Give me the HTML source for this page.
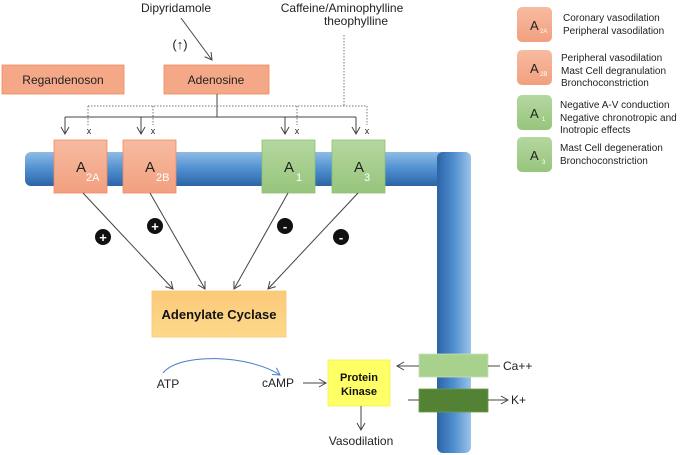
<!DOCTYPE html>
<html><head><meta charset="utf-8"><style>
body{margin:0;background:#fff}
svg{display:block;font-family:"Liberation Sans",Arial,sans-serif}
</style></head><body>
<svg width="685" height="455" viewBox="0 0 685 455" xmlns="http://www.w3.org/2000/svg">
<defs>
<linearGradient id="hb" x1="0" y1="0" x2="0" y2="1"><stop offset="0" stop-color="#8fbbe6"/><stop offset="0.5" stop-color="#4f8fd0"/><stop offset="1" stop-color="#2c64a6"/></linearGradient>
<linearGradient id="vb" x1="0" y1="0" x2="1" y2="0"><stop offset="0" stop-color="#2c64a6"/><stop offset="0.5" stop-color="#4f8fd0"/><stop offset="1" stop-color="#9cc3ea"/></linearGradient>
<linearGradient id="or" x1="0" y1="0" x2="0" y2="1"><stop offset="0" stop-color="#f7bba1"/><stop offset="1" stop-color="#f2a07f"/></linearGradient>
<linearGradient id="gr" x1="0" y1="0" x2="0" y2="1"><stop offset="0" stop-color="#b5d7a0"/><stop offset="1" stop-color="#97c57c"/></linearGradient>
<linearGradient id="ac" x1="0" y1="0" x2="0" y2="1"><stop offset="0" stop-color="#fbc97a"/><stop offset="1" stop-color="#fdd98a"/></linearGradient>
<marker id="a" markerWidth="10" markerHeight="10" refX="8" refY="5" orient="auto" markerUnits="userSpaceOnUse"><path d="M1,1 L8,5 L1,9" fill="none" stroke="#444" stroke-width="1"/></marker>
<marker id="ab" markerWidth="10" markerHeight="10" refX="8" refY="5" orient="auto" markerUnits="userSpaceOnUse"><path d="M1,1 L8,5 L1,9" fill="none" stroke="#4a7cc6" stroke-width="1"/></marker>
</defs>
<!-- membrane -->
<rect x="25" y="152" width="446" height="34" rx="6" fill="url(#hb)"/>
<rect x="437" y="152" width="34" height="301" rx="6" fill="url(#vb)"/>

<!-- top text -->
<text x="176" y="12" font-size="12" text-anchor="middle" fill="#222">Dipyridamole</text>
<line x1="181" y1="18" x2="212" y2="60" stroke="#444" marker-end="url(#a)"/>
<text x="180" y="49" font-size="13" text-anchor="middle" fill="#222">(↑)</text>
<text x="342" y="12" font-size="12" text-anchor="middle" fill="#222">Caffeine/Aminophylline</text>
<text x="356" y="25" font-size="12" text-anchor="middle" fill="#222">theophylline</text>

<rect x="2" y="65" width="122" height="29" fill="#f4a888" stroke="#f08a5e" stroke-width="0.8"/>
<text x="63" y="84" font-size="12" text-anchor="middle" fill="#222">Regandenoson</text>
<rect x="164" y="65" width="105" height="29" fill="#f4a888" stroke="#f08a5e" stroke-width="0.8"/>
<text x="216" y="84" font-size="12" text-anchor="middle" fill="#222">Adenosine</text>

<!-- solid tree -->
<g stroke="#444" fill="none" stroke-width="1">
<line x1="217" y1="94" x2="217" y2="117"/>
<line x1="65" y1="117" x2="356" y2="117"/>
<line x1="65" y1="117" x2="65" y2="134" marker-end="url(#a)"/>
<line x1="141" y1="117" x2="141" y2="134" marker-end="url(#a)"/>
<line x1="285" y1="117" x2="285" y2="134" marker-end="url(#a)"/>
<line x1="356" y1="117" x2="356" y2="134" marker-end="url(#a)"/>
</g>
<!-- dotted tree -->
<g stroke="#777" fill="none" stroke-width="1" stroke-dasharray="1.5,1.5">
<line x1="344" y1="35" x2="344" y2="106"/>
<line x1="88" y1="106" x2="367" y2="106"/>
<line x1="88" y1="106" x2="88" y2="125"/>
<line x1="153" y1="106" x2="153" y2="125"/>
<line x1="297" y1="106" x2="297" y2="125"/>
<line x1="367" y1="106" x2="367" y2="125"/>
</g>
<g font-size="9" fill="#222" text-anchor="middle">
<text x="89" y="134">x</text><text x="153" y="134">x</text><text x="297" y="134">x</text><text x="367" y="134">x</text>
</g>

<!-- receptors -->
<rect x="54" y="140" width="53" height="53" fill="url(#or)" stroke="#f08a5e" stroke-width="0.8"/>
<rect x="123" y="140" width="53" height="53" fill="url(#or)" stroke="#f08a5e" stroke-width="0.8"/>
<rect x="262" y="140" width="53" height="53" fill="url(#gr)" stroke="#8cc070" stroke-width="0.8"/>
<rect x="332" y="140" width="53" height="53" fill="url(#gr)" stroke="#8cc070" stroke-width="0.8"/>
<g font-size="15" fill="#222">
<text x="76" y="172">A</text><text x="86" y="181" font-size="11" fill="#fff">2A</text>
<text x="145" y="172">A</text><text x="156" y="181" font-size="11" fill="#fff">2B</text>
<text x="284" y="172">A</text><text x="296" y="181" font-size="11" fill="#fff">1</text>
<text x="354" y="172">A</text><text x="364" y="181" font-size="11" fill="#fff">3</text>
</g>

<!-- arrows to AC -->
<g stroke="#444" fill="none">
<line x1="83" y1="193" x2="173" y2="289" marker-end="url(#a)"/>
<line x1="150" y1="193" x2="205" y2="289" marker-end="url(#a)"/>
<line x1="288" y1="193" x2="234" y2="289" marker-end="url(#a)"/>
<line x1="358" y1="193" x2="268" y2="289" marker-end="url(#a)"/>
</g>
<g font-size="13" font-weight="bold" fill="#fff" text-anchor="middle">
<circle cx="103" cy="237" r="8" fill="#111"/><text x="103" y="242">+</text>
<circle cx="155" cy="226" r="8" fill="#111"/><text x="155" y="231">+</text>
<circle cx="285" cy="226" r="8" fill="#111"/><text x="285" y="231">-</text>
<circle cx="341" cy="237" r="8" fill="#111"/><text x="341" y="242">-</text>
</g>

<rect x="152" y="291" width="134" height="46" fill="url(#ac)" stroke="#f8c878" stroke-width="0.8"/>
<text x="219" y="319" font-size="13" font-weight="bold" text-anchor="middle" fill="#111">Adenylate Cyclase</text>

<!-- lower -->
<text x="168" y="388" font-size="12" text-anchor="middle" fill="#222">ATP</text>
<text x="278" y="387" font-size="12" text-anchor="middle" fill="#222">cAMP</text>
<path d="M163,373 C180,352 250,355 280,375" stroke="#4a7cc6" fill="none" marker-end="url(#ab)"/>
<line x1="303" y1="383" x2="326" y2="383" stroke="#444" marker-end="url(#a)"/>
<rect x="328" y="360" width="62" height="46" fill="#ffff66" stroke="#f0f060" stroke-width="0.8"/>
<text x="359" y="381" font-size="11" font-weight="bold" text-anchor="middle" fill="#111">Protein</text>
<text x="359" y="395" font-size="11" font-weight="bold" text-anchor="middle" fill="#111">Kinase</text>
<line x1="361" y1="406" x2="361" y2="430" stroke="#444" marker-end="url(#a)"/>
<text x="361" y="445" font-size="12" text-anchor="middle" fill="#222">Vasodilation</text>

<rect x="419" y="354" width="69" height="23" fill="#a9d18e" stroke="#c5e0b4" stroke-width="0.8"/>
<line x1="419" y1="366" x2="397" y2="366" stroke="#444" marker-end="url(#a)"/>
<line x1="488" y1="366" x2="500" y2="366" stroke="#444"/>
<text x="503" y="370" font-size="12" fill="#222">Ca++</text>
<rect x="419" y="389" width="69" height="23" fill="#548235" stroke="#6a9a48" stroke-width="0.8"/>
<line x1="408" y1="400" x2="419" y2="400" stroke="#444"/>
<line x1="488" y1="400" x2="508" y2="400" stroke="#444" marker-end="url(#a)"/>
<text x="511" y="404" font-size="12" fill="#222">K+</text>

<!-- legend -->
<rect x="517" y="7" width="35" height="35" rx="5" fill="url(#or)"/>
<rect x="517" y="50" width="35" height="35" rx="5" fill="url(#or)"/>
<rect x="517" y="95" width="35" height="35" rx="5" fill="url(#gr)"/>
<rect x="517" y="137" width="35" height="35" rx="5" fill="url(#gr)"/>
<g font-size="13" fill="#222">
<text x="530" y="30">A</text><text x="540" y="33" font-size="6" fill="#fff">2A</text>
<text x="530" y="73">A</text><text x="540" y="76" font-size="6" fill="#fff">2B</text>
<text x="530" y="118">A</text><text x="542" y="121" font-size="6" fill="#fff">1</text>
<text x="530" y="160">A</text><text x="542" y="164" font-size="6" fill="#fff">3</text>
</g>
<g font-size="10" fill="#222">
<text x="563" y="21">Coronary vasodilation</text>
<text x="563" y="34">Peripheral vasodilation</text>
<text x="561" y="61">Peripheral vasodilation</text>
<text x="561" y="74">Mast Cell degranulation</text>
<text x="561" y="86">Bronchoconstriction</text>
<text x="560" y="108">Negative A-V conduction</text>
<text x="560" y="121">Negative chronotropic and</text>
<text x="560" y="133">Inotropic effects</text>
<text x="560" y="151">Mast Cell degeneration</text>
<text x="560" y="164">Bronchoconstriction</text>
</g>
</svg>
</body></html>
